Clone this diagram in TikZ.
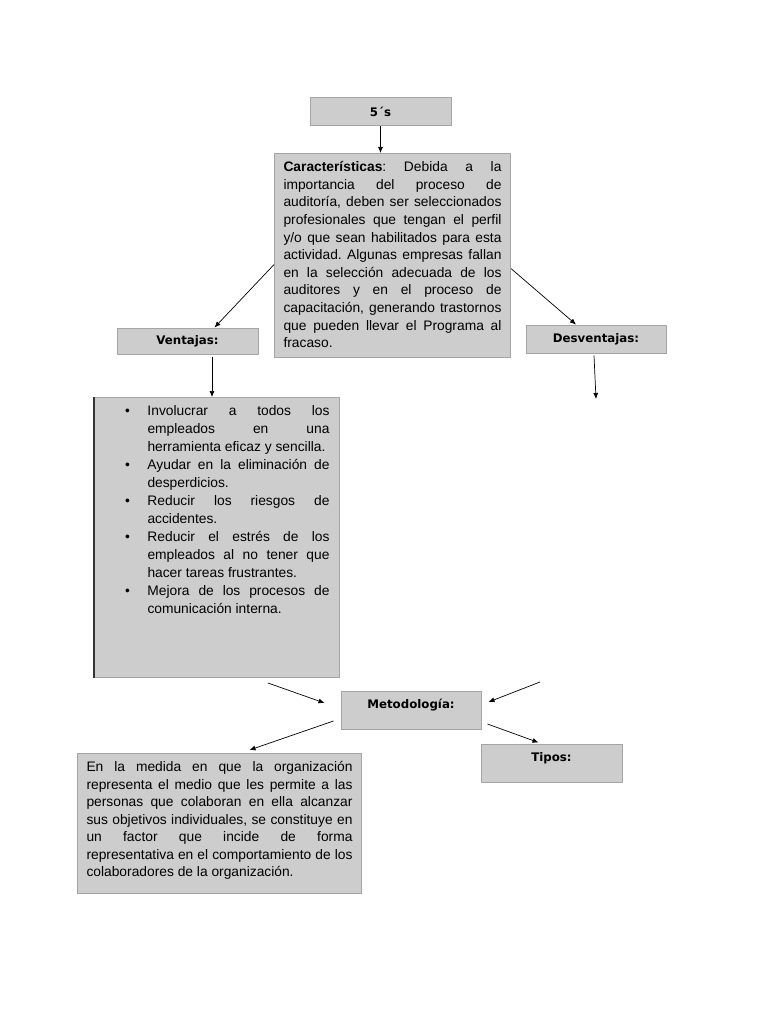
\documentclass[tikz,border=0pt]{standalone}
\usepackage{fontspec}
\setmainfont{Liberation Sans}
\newfontfamily\cabeza{DejaVu Sans}
\usetikzlibrary{calc,arrows.meta}
\definecolor{relleno}{RGB}{205,205,205}
\definecolor{borde}{RGB}{165,165,165}
\tolerance=10000
\hyphenpenalty=10000
\frenchspacing
\newcommand\punto{\noindent\hangindent=44pt\hangafter=1\makebox[44pt][l]{\hspace{21.6pt}\textbullet}}

\tikzset{
  caja/.style={draw=borde, fill=relleno, line width=1pt},
  titulo/.style={caja, minimum width=141, minimum height=28, inner sep=0, font=\cabeza\bfseries\fontsize{11.8}{14}\selectfont},
  tituloarriba/.style={titulo, minimum height=38, text height=17, text depth=21},
  texto/.style={caja, anchor=north west, inner xsep=9, inner ysep=8, align=justify, font=\frenchspacing\fontsize{13.8}{17.6}\selectfont},
  flecha/.style={-{Latex[length=6pt,width=5pt]}, line width=0.7pt},
}

\begin{document}
\begin{tikzpicture}[x=1pt, y=-1pt]
  \useasboundingbox (0,0) rectangle (768,1024);

  \node (cinco) [titulo] at (380.5,112) {5´s};
  \node (carac) [texto, text width=218, text depth=178] at (274,153) {\textbf{Características}: Debida a la\linebreak importancia del proceso de\linebreak auditoría, deben ser seleccionados\linebreak profesionales que tengan el perfil\linebreak y/o que sean habilitados para esta\linebreak actividad. Algunas empresas fallan\linebreak en la selección adecuada de los\linebreak auditores y en el proceso de\linebreak capacitación, generando trastornos\linebreak que pueden llevar el Programa al\linebreak fracaso.};
  \node (vent) [titulo, minimum height=26] at (187.5,341) {Ventajas:};
  \node (desv) [titulo, minimum width=140] at (596,339) {Desventajas:};
  \node (lista) [texto, text width=226, inner xsep=10, text depth=254, font=\frenchspacing\fontsize{13.8}{18}\selectfont] at (93,397) {%
    \punto Involucrar a todos los\linebreak empleados en una\linebreak herramienta eficaz y sencilla.\par
    \punto Ayudar en la eliminación de\linebreak desperdicios.\par
    \punto Reducir los riesgos de\linebreak accidentes.\par
    \punto Reducir el estrés de los\linebreak empleados al no tener que\linebreak hacer tareas frustrantes.\par
    \punto Mejora de los procesos de\linebreak comunicación interna.\par};
  \node (meto) [tituloarriba, minimum width=140] at (411,710) {Metodología:};
  \node (tipos) [tituloarriba] at (551.5,763) {Tipos:};
  \node (org) [texto, text width=266, text depth=114, font=\frenchspacing\fontsize{13.8}{17.5}\selectfont] at (77,753) {En la medida en que la organización\linebreak representa el medio que les permite a las\linebreak personas que colaboran en ella alcanzar\linebreak sus objetivos individuales, se constituye en\linebreak un factor que incide de forma\linebreak representativa en el comportamiento de los\linebreak colaboradores de la organización.};

  \draw [line width=2pt, black!80] ($(lista.north west)+(1,0)$) -- ($(lista.south west)+(1,0)$);

  \coordinate (v1) at ($(vent.south)+(24.5,2)$);
  \coordinate (d1) at ($(desv.south)+(-2,2)$);
  \coordinate (dfin) at (596,399);
  \coordinate (m1) at (268,683);
  \coordinate (m2) at (540,682);

  \draw [flecha] (cinco.south) -- (cinco.south |- carac.north);
  \draw [flecha] ($(carac.west)+(0,9)$) -- ($(vent.north)+(27,0)$);
  \draw [flecha] ($(carac.east)+(0,13)$) -- ($(desv.north)+(-20,0)$);
  \draw [flecha] (v1) -- (v1 |- lista.north);
  \draw [flecha] (d1) -- (dfin);
  \draw [flecha] (m1) -- ($(meto.west)+(-16,-7)$);
  \draw [flecha] (m2) -- ($(meto.east)+(7,-8)$);
  \draw [flecha] ($(meto.west)+(-7,11)$) -- ($(org.north)+(30,-3)$);
  \draw [flecha] ($(meto.east)+(6,14)$) -- ($(tipos.north)+(-13,-1)$);
\end{tikzpicture}
\end{document}
